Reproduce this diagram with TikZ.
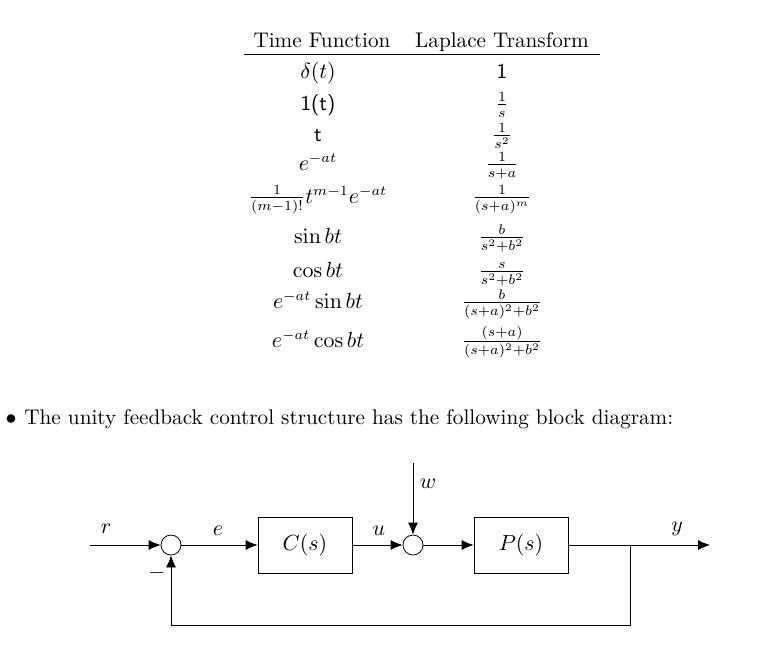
\documentclass[tikz,border=0pt]{standalone}
\usetikzlibrary{arrows.meta}
\begin{document}
\begin{tikzpicture}[x=0.5pt,y=-0.5pt,
  txt/.style={font=\fontsize{10.6}{12}\selectfont},
  cell/.style={txt,anchor=base},
  blk/.style={draw,minimum width=47pt,minimum height=28pt,txt},
  sum/.style={draw,circle,minimum size=10pt,inner sep=0pt},
  arr/.style={-{Latex[length=6pt,width=5pt]}},
  lab/.style={txt}]
\useasboundingbox (0,0) rectangle (774,647);
% table
\node[cell] (h1) at (322,47) {Time Function};
\node[cell] (h2) at (502,47) {Laplace Transform};
\coordinate (rl) at (244,55); \coordinate (rr) at (600,55);
\draw[line width=0.5pt] (rl) -- (rr);
\node[cell] (a1) at (318,79) {$\delta(t)$};   \node[cell] (b1) at (502,79) {\textsf{1}};
\node[cell] (a2) at (318,110) {\textsf{1(t)}};         \node[cell] (b2) at (502,110) {$\frac{1}{s}$};
\node[cell] (a3) at (318,141) {\textsf{t}};            \node[cell] (b3) at (502,141) {$\frac{1}{s^2}$};
\node[cell] (a4) at (318,170) {$e^{-at}$};    \node[cell] (b4) at (502,170) {$\frac{1}{s+a}$};
\node[cell] (a5) at (318,203) {$\frac{1}{(m-1)!}t^{m-1}e^{-at}$}; \node[cell] (b5) at (502,203) {$\frac{1}{(s+a)^m}$};
\node[cell] (a6) at (318,243) {$\sin bt$};    \node[cell] (b6) at (502,243) {$\frac{b}{s^2+b^2}$};
\node[cell] (a7) at (318,277) {$\cos bt$};    \node[cell] (b7) at (502,277) {$\frac{s}{s^2+b^2}$};
\node[cell] (a8) at (318,308) {$e^{-at}\sin bt$}; \node[cell] (b8) at (502,308) {$\frac{b}{(s+a)^2+b^2}$};
\node[cell] (a9) at (318,347) {$e^{-at}\cos bt$}; \node[cell] (b9) at (502,347) {$\frac{(s+a)}{(s+a)^2+b^2}$};
% bullet
\node[txt,anchor=base] (dot) at (11,424) {$\bullet$};
\node[txt,anchor=base west,inner sep=0pt] (bul) at (24,424) {The unity feedback control structure has the following block diagram:};
% block diagram
\coordinate (rin) at (90,545);
\node[sum] (s1) at (171,545) {};
\node[blk] (C) at (305,545) {$C(s)$};
\node[sum] (s2) at (413,545) {};
\coordinate (win) at (413,463);
\node[blk] (P) at (521,545) {$P(s)$};
\coordinate (tap) at (630,545);
\coordinate (yout) at (710,545);
\coordinate (fb1) at (630,625);
\coordinate (fb2) at (171,625);
\draw[arr] (rin) -- (s1);
\draw[arr] (s1) -- (C);
\draw[arr] (C) -- (s2);
\draw[arr] (win) -- (s2);
\draw[arr] (s2) -- (P);
\draw[arr] (P) -- (yout);
\draw[arr] (tap) -- (fb1) -- (fb2) -- (s1);
\node[lab] (lr) at (106,529) {$r$};
\node[lab] (le) at (218,531) {$e$};
\node[lab] (lu) at (379,531) {$u$};
\node[lab] (lw) at (428,484) {$w$};
\node[lab] (ly) at (677,529) {$y$};
\node[lab] (lm) at (157,573) {$-$};
\end{tikzpicture}
\end{document}
